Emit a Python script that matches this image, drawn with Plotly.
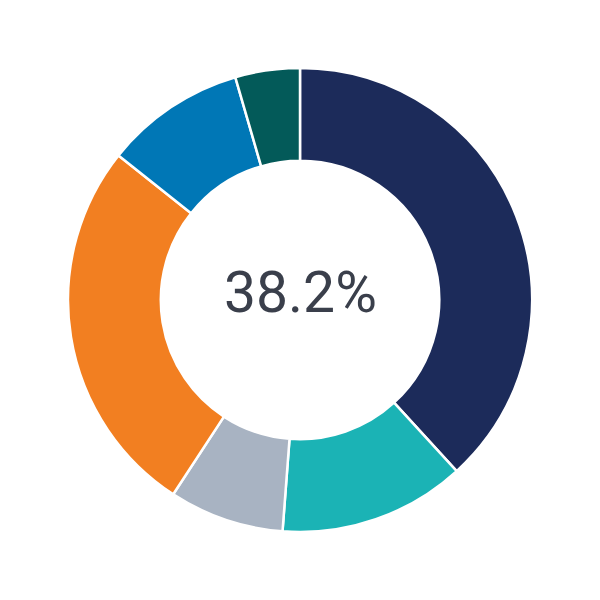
import plotly.graph_objects as go

labels = ["A", "B", "C", "D", "E", "F"]
values = [38.2, 13.0, 8.0, 26.5, 9.8, 4.5]
colors = ["#1c2b5a", "#1bb3b5", "#a8b3c2", "#f27f21", "#0077b6", "#035a59"]
center_text = "38.2%"

fig = go.Figure(
    go.Pie(
        labels=labels,
        values=values,
        hole=0.6,
        sort=False,
        direction="clockwise",
        rotation=0,
        textinfo="none",
        marker=dict(colors=colors, line=dict(color="white", width=2.5)),
        showlegend=False,
    )
)

fig.add_annotation(
    text=center_text,
    x=0.5,
    y=0.5,
    xref="paper",
    yref="paper",
    yshift=8,
    showarrow=False,
    font=dict(family="Roboto", size=57, color="#3a3f4b"),
)

fig.update_layout(
    width=600,
    height=600,
    margin=dict(l=60, r=76, t=60, b=76),
    paper_bgcolor="white",
    plot_bgcolor="white",
)

fig.write_html("out.html")
